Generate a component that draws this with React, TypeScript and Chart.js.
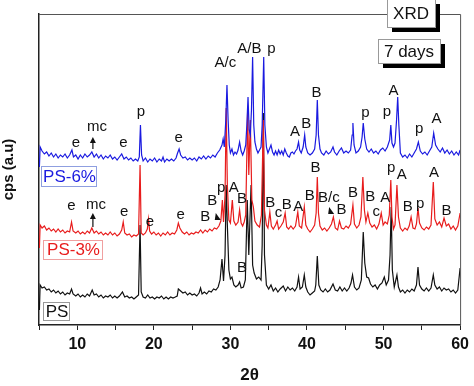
import { useEffect, useRef } from 'react';
import { Chart, registerables } from 'chart.js';
Chart.register(...registerables);

const FONT = "'Liberation Sans', Arial, sans-serif";

// 2θ (deg), intensity (a.u.)
const ps6: number[][] = [
  [5.05,158],[5.15,178],[5.4,174],[5.7,171],[6.0,173],[6.3,169],[6.6,172],[6.9,168],[7.2,171],[7.5,167],[7.8,170],[8.1,168],[8.4,171],[8.7,167],[9.0,170],[9.3,175],[9.5,168],[9.8,170],[10.1,166],[10.4,170],[10.7,167],[11.0,171],[11.3,168],[11.6,170],[11.9,173],[12.2,168],[12.5,171],[12.8,167],[13.1,170],[13.4,166],[13.7,169],[14.0,167],[14.3,170],[14.6,166],[14.9,168],[15.2,165],[15.5,168],[15.8,171],[16.1,166],[16.4,168],[16.7,165],[17.0,167],[17.3,164],[17.6,166],[17.9,164],[18.1,168],[18.25,200],[18.4,170],[18.6,164],[18.9,167],[19.2,163],[19.5,166],[19.8,164],[20.1,167],[20.4,163],[20.7,166],[21.0,164],[21.2,168],[21.4,163],[21.7,166],[22.0,164],[22.3,166],[22.6,164],[22.9,167],[23.1,172],[23.3,176],[23.5,170],[23.8,167],[24.1,168],[24.4,165],[24.7,167],[25.0,165],[25.3,167],[25.6,164],[25.9,168],[26.2,166],[26.5,169],[26.8,166],[27.1,169],[27.4,167],[27.7,170],[28.0,168],[28.3,172],[28.6,175],[28.9,180],[29.05,186],[29.2,178],[29.4,205],[29.55,240],[29.7,205],[29.85,180],[30.0,172],[30.2,176],[30.4,170],[30.6,173],[30.8,171],[31.0,175],[31.2,183],[31.4,174],[31.6,170],[31.8,174],[32.0,180],[32.15,200],[32.3,228],[32.45,195],[32.6,190],[32.75,215],[32.9,268],[33.05,200],[33.2,183],[33.4,176],[33.6,172],[33.8,175],[34.0,178],[34.15,200],[34.35,268],[34.5,200],[34.7,178],[34.9,172],[35.1,176],[35.3,180],[35.5,173],[35.7,170],[35.9,174],[36.1,170],[36.3,175],[36.5,171],[36.7,174],[36.9,170],[37.1,176],[37.3,172],[37.5,169],[37.7,168],[37.9,172],[38.1,173],[38.3,171],[38.5,174],[38.7,176],[38.9,183],[39.05,175],[39.25,172],[39.5,178],[39.7,190],[39.85,178],[40.1,172],[40.4,170],[40.7,172],[41.0,176],[41.2,190],[41.35,225],[41.5,190],[41.7,176],[41.9,172],[42.2,170],[42.5,174],[42.8,171],[43.1,173],[43.4,178],[43.6,173],[43.9,170],[44.2,174],[44.5,177],[44.8,172],[45.1,174],[45.4,172],[45.7,175],[45.9,190],[46.0,202],[46.15,180],[46.4,172],[46.7,174],[47.0,178],[47.2,188],[47.35,202],[47.55,186],[47.8,176],[48.1,173],[48.4,176],[48.7,172],[49.0,174],[49.3,171],[49.6,175],[49.9,177],[50.2,174],[50.5,178],[50.8,185],[50.95,200],[51.1,182],[51.3,178],[51.5,182],[51.7,205],[51.85,228],[52.0,200],[52.2,172],[52.5,168],[52.8,170],[53.1,167],[53.4,171],[53.7,168],[54.0,172],[54.3,176],[54.55,183],[54.8,174],[55.1,171],[55.4,173],[55.7,170],[56.0,174],[56.3,178],[56.55,192],[56.8,180],[57.1,176],[57.4,173],[57.7,177],[58.0,172],[58.3,175],[58.6,171],[58.9,174],[59.2,170],[59.5,173],[59.8,170],[60.0,175]
];

const ps3: number[][] = [
  [5.05,77],[5.15,100],[5.4,97],[5.7,99],[6.0,95],[6.3,97],[6.6,94],[6.9,96],[7.2,93],[7.5,96],[7.8,93],[8.1,95],[8.4,92],[8.7,94],[9.0,93],[9.25,103],[9.45,94],[9.8,92],[10.1,94],[10.4,91],[10.7,93],[11.0,91],[11.3,94],[11.6,92],[11.9,97],[12.2,92],[12.5,94],[12.8,91],[13.1,93],[13.4,90],[13.7,92],[14.0,90],[14.3,93],[14.6,90],[14.9,92],[15.2,89],[15.5,91],[15.8,95],[16.0,103],[16.2,92],[16.5,90],[16.8,91],[17.1,88],[17.4,90],[17.7,89],[18.0,91],[18.2,160],[18.35,92],[18.6,90],[18.9,92],[19.15,96],[19.3,106],[19.45,94],[19.7,91],[20.0,93],[20.3,90],[20.6,92],[20.9,89],[21.2,92],[21.5,90],[21.8,93],[22.1,90],[22.4,92],[22.7,91],[23.0,95],[23.2,102],[23.4,97],[23.7,93],[24.0,91],[24.3,93],[24.6,90],[24.9,92],[25.2,91],[25.5,93],[25.8,92],[26.1,95],[26.4,92],[26.7,95],[27.0,93],[27.3,96],[27.6,94],[27.9,97],[28.2,96],[28.5,99],[28.75,104],[28.95,125],[29.1,103],[29.3,130],[29.45,217],[29.6,140],[29.8,105],[30.0,102],[30.25,125],[30.45,104],[30.7,100],[31.0,103],[31.2,115],[31.4,102],[31.6,99],[31.8,103],[32.0,110],[32.25,215],[32.4,150],[32.6,205],[32.8,125],[33.0,118],[33.2,104],[33.5,100],[33.8,98],[34.05,110],[34.3,205],[34.45,115],[34.7,100],[34.9,97],[35.15,113],[35.35,99],[35.6,96],[35.9,100],[36.1,104],[36.3,96],[36.6,99],[36.9,103],[37.15,112],[37.35,98],[37.6,96],[37.9,99],[38.2,96],[38.5,99],[38.8,113],[39.0,99],[39.3,97],[39.65,118],[39.85,100],[40.1,96],[40.4,93],[40.7,96],[41.0,100],[41.2,112],[41.35,148],[41.5,112],[41.7,99],[42.0,95],[42.3,97],[42.6,94],[42.9,97],[43.2,101],[43.45,108],[43.7,97],[44.0,95],[44.25,104],[44.5,97],[44.8,96],[45.1,99],[45.4,97],[45.7,101],[46.0,120],[46.2,101],[46.5,97],[46.8,100],[47.05,108],[47.3,148],[47.5,115],[47.7,103],[47.95,112],[48.2,102],[48.5,98],[48.8,100],[49.1,96],[49.4,101],[49.7,112],[49.95,100],[50.2,103],[50.5,101],[50.75,110],[50.95,145],[51.1,108],[51.3,96],[51.5,100],[51.75,140],[51.95,108],[52.2,97],[52.5,94],[52.8,97],[53.1,95],[53.35,99],[53.6,108],[53.85,97],[54.1,96],[54.3,101],[54.5,117],[54.7,102],[55.0,97],[55.3,95],[55.6,98],[55.9,96],[56.2,100],[56.5,143],[56.7,106],[57.0,100],[57.3,103],[57.6,98],[57.9,107],[58.2,99],[58.5,101],[58.8,96],[59.1,99],[59.4,95],[59.7,99],[60.0,112]
];

const ps: number[][] = [
  [5.05,15],[5.15,40],[5.4,37],[5.7,38],[6.0,35],[6.3,36],[6.6,33],[6.9,35],[7.2,32],[7.5,34],[7.8,31],[8.1,33],[8.4,30],[8.7,32],[9.0,31],[9.25,36],[9.45,31],[9.8,29],[10.1,31],[10.4,28],[10.7,30],[11.0,28],[11.3,31],[11.6,29],[11.95,35],[12.2,30],[12.5,31],[12.8,28],[13.1,30],[13.4,27],[13.7,29],[14.0,28],[14.3,30],[14.6,27],[14.9,29],[15.2,27],[15.5,29],[15.9,33],[16.2,28],[16.5,29],[16.8,27],[17.1,28],[17.4,26],[17.7,28],[18.0,30],[18.2,100],[18.35,33],[18.6,28],[18.9,27],[19.2,30],[19.5,27],[19.8,28],[20.1,26],[20.4,28],[20.7,27],[21.0,29],[21.3,26],[21.6,28],[21.9,26],[22.2,28],[22.5,27],[22.8,28],[23.05,29],[23.2,36],[23.5,34],[23.8,32],[24.1,33],[24.4,30],[24.7,32],[25.0,30],[25.3,31],[25.6,29],[25.9,32],[26.1,37],[26.3,31],[26.6,33],[26.9,31],[27.2,34],[27.5,33],[27.8,36],[28.1,35],[28.4,38],[28.65,45],[28.9,66],[29.1,44],[29.3,70],[29.45,140],[29.6,100],[29.8,55],[30.0,46],[30.2,48],[30.45,40],[30.7,38],[31.0,40],[31.2,43],[31.4,37],[31.7,38],[31.95,45],[32.2,125],[32.4,70],[32.7,140],[32.9,60],[33.1,52],[33.4,46],[33.7,48],[34.0,45],[34.15,80],[34.3,212],[34.45,70],[34.7,40],[35.0,36],[35.3,40],[35.6,34],[35.9,37],[36.2,33],[36.5,36],[36.9,39],[37.2,34],[37.5,38],[37.8,35],[38.1,37],[38.4,34],[38.7,38],[38.9,48],[39.1,36],[39.4,38],[39.65,50],[39.85,38],[40.1,33],[40.4,30],[40.7,32],[41.0,34],[41.15,40],[41.35,69],[41.55,40],[41.8,35],[42.1,33],[42.4,36],[42.7,33],[43.0,35],[43.4,41],[43.7,35],[44.0,34],[44.3,38],[44.6,34],[44.9,37],[45.2,34],[45.5,37],[45.75,42],[45.95,50],[46.2,38],[46.5,35],[46.8,37],[47.1,45],[47.35,93],[47.55,62],[47.8,48],[48.05,47],[48.3,41],[48.6,38],[48.9,40],[49.2,36],[49.5,40],[49.8,42],[50.1,48],[50.35,40],[50.65,45],[50.85,70],[51.0,118],[51.15,55],[51.4,38],[51.75,50],[51.95,38],[52.2,33],[52.5,35],[52.8,32],[53.1,35],[53.4,33],[53.7,36],[54.0,34],[54.3,40],[54.5,58],[54.7,40],[55.0,36],[55.3,34],[55.6,37],[55.9,34],[56.2,37],[56.5,50],[56.7,40],[57.0,36],[57.3,38],[57.6,34],[57.9,37],[58.2,35],[58.5,36],[58.8,33],[59.1,35],[59.4,32],[59.7,35],[60.0,57]
];

const seriesNames = ['PS-6%', 'PS-3%', 'PS'];
const seriesColors = ['#1a1ae0', '#e81c1c', '#111111'];

// phase labels: [text, 2θ, level]
const ps6Labels: [string, number, number][] = [
  ['e',9.83,182],['mc',12.56,198],['e',16.01,182],['p',18.31,213],['e',23.25,187],
  ['A/c',29.35,262],['A/B',32.47,276],['p',35.36,276],['A',38.44,193],['B',39.91,201],
  ['B',41.26,232],['p',47.62,212],['p',50.43,213],['A',51.30,234],['p',54.64,196],['A',56.92,206]
];
const ps3Labels: [string, number, number][] = [
  ['e',9.22,119],['mc',12.43,120],['e',16.14,113],['e',19.48,103],['e',23.51,110],
  ['B',26.71,108],['B',27.62,124],['p',28.79,137],['A',30.43,137],['B',31.52,126],
  ['B',35.19,122],['c',36.27,112],['B',37.36,120],['A',38.87,118],['B',40.35,129],
  ['B',41.13,157],['B/c',42.86,127],['B',44.51,115],['B',46.01,132],['B',48.27,128],
  ['c',49.05,113],['A',50.22,127],['p',51.0,157],['A',52.38,150],['B',53.16,118],
  ['p',54.77,121],['A',56.58,152],['B',58.22,114]
];
const psLabels: [string, number, number][] = [['B',31.52,57]];

// arrows marking mc: [2θ, from, to]
const arrows: [number, number, number][] = [[12.04,176,188],[12.04,98,112]];
// small pointer heads: [2θ, level]
const pointers: [number, number][] = [[28.35,108],[43.16,114]];

const xTickValues = [10, 20, 30, 40, 50, 60];

const decorPlugin = {
  id: 'decor',
  afterDraw(chart: any) {
    const { ctx, chartArea, scales } = chart;
    const { left, top, right, bottom } = chartArea;
    const xs = scales.x, ys = scales.y;
    ctx.save();
    // frame top/right
    ctx.strokeStyle = '#555';
    ctx.lineWidth = 1;
    ctx.beginPath();
    ctx.moveTo(left, top + 0.5); ctx.lineTo(right + 0.5, top + 0.5); ctx.lineTo(right + 0.5, bottom);
    ctx.stroke();

    // labels
    ctx.fillStyle = '#111';
    ctx.font = `15px ${FONT}`;
    ctx.textAlign = 'center';
    ctx.textBaseline = 'middle';
    [...ps6Labels, ...ps3Labels, ...psLabels].forEach(([t, a, v]) => {
      ctx.fillText(t, xs.getPixelForValue(a), ys.getPixelForValue(v));
    });

    // arrows
    ctx.strokeStyle = '#111';
    ctx.lineWidth = 1.2;
    arrows.forEach(([a, v0, v1]) => {
      const px = xs.getPixelForValue(a);
      const y0 = ys.getPixelForValue(v0), y1 = ys.getPixelForValue(v1);
      ctx.beginPath(); ctx.moveTo(px, y0); ctx.lineTo(px, y1 + 3); ctx.stroke();
      ctx.beginPath(); ctx.moveTo(px, y1); ctx.lineTo(px - 3, y1 + 6); ctx.lineTo(px + 3, y1 + 6); ctx.closePath(); ctx.fill();
    });
    pointers.forEach(([a, v]) => {
      const px = xs.getPixelForValue(a), py = ys.getPixelForValue(v);
      ctx.beginPath(); ctx.moveTo(px - 2, py - 4); ctx.lineTo(px + 3, py + 3); ctx.lineTo(px - 3, py + 3); ctx.closePath(); ctx.fill();
    });

    // legend boxes
    const boxes = [
      { t: seriesNames[0], c: seriesColors[0], b: '#8f9fe0', x: left + 2, y: 166, w: 55, h: 20 },
      { t: seriesNames[1], c: seriesColors[1], b: '#f0a0a0', x: left + 4, y: 240, w: 59, h: 19 },
      { t: seriesNames[2], c: seriesColors[2], b: '#999', x: left + 4, y: 302, w: 26, h: 18 },
    ];
    ctx.font = `17px ${FONT}`;
    boxes.forEach(bx => {
      ctx.fillStyle = '#fff';
      ctx.fillRect(bx.x, bx.y, bx.w, bx.h);
      ctx.strokeStyle = bx.b; ctx.lineWidth = 1;
      ctx.strokeRect(bx.x + 0.5, bx.y + 0.5, bx.w, bx.h);
      ctx.fillStyle = bx.c;
      ctx.fillText(bx.t, bx.x + bx.w / 2 + 1, bx.y + bx.h / 2 + 1);
    });

    // title boxes with shadow
    const tboxes = [
      { t: 'XRD', x: 387, y: -1, w: 48, h: 28 },
      { t: '7 days', x: 378, y: 39, w: 62, h: 24 },
    ];
    ctx.font = `17px ${FONT}`;
    tboxes.forEach(bx => {
      ctx.fillStyle = '#000';
      ctx.fillRect(bx.x + 5, bx.y + 5, bx.w, bx.h);
      ctx.fillStyle = '#fff';
      ctx.fillRect(bx.x, bx.y, bx.w, bx.h);
      ctx.strokeStyle = '#999'; ctx.lineWidth = 1;
      ctx.strokeRect(bx.x + 0.5, bx.y + 0.5, bx.w, bx.h);
      ctx.fillStyle = '#111';
      ctx.fillText(bx.t, bx.x + bx.w / 2, bx.y + bx.h / 2 + 1);
    });
    ctx.restore();
  },
};

export default function App() {
  const ref = useRef<HTMLCanvasElement>(null);
  useEffect(() => {
    document.body.style.margin = '0';
    const toPts = (arr: number[][]) => arr.map(([x, y]) => ({ x, y }));
    const chart = new Chart(ref.current!, {
      type: 'line',
      data: {
        datasets: [ps6, ps3, ps].map((d, i) => ({
          label: seriesNames[i],
          data: toPts(d),
          borderColor: seriesColors[i],
          borderWidth: 1.2,
          pointRadius: 0,
          tension: 0,
          fill: false,
        })),
      },
      options: {
        animation: false,
        responsive: false,
        maintainAspectRatio: false,
        layout: { padding: { top: 14, right: 12, left: 0, bottom: 0 } },
        plugins: { legend: { display: false }, tooltip: { enabled: false } },
        scales: {
          x: {
            type: 'linear',
            min: 5,
            max: 60,
            afterFit: (s: any) => { s.height = 61; },
            afterBuildTicks: (s: any) => {
              s.ticks = [5, 10, 15, 20, 25, 30, 35, 40, 45, 50, 55, 60].map(v => ({ value: v }));
            },
            ticks: {
              autoSkip: false,
              maxRotation: 0,
              padding: 5,
              color: '#111',
              font: { family: FONT, size: 16, weight: 'bold' },
              callback: (v: any) => (xTickValues.includes(Number(v)) ? String(v) : ''),
            },
            grid: { drawOnChartArea: false, tickLength: 5, color: '#222' },
            border: { color: '#222', width: 1.5 },
            title: {
              display: true,
              text: '2θ',
              color: '#111',
              font: { family: FONT, size: 17, weight: 'bold' },
              padding: { top: 0, bottom: 0 },
            },
          },
          y: {
            min: 0,
            max: 311,
            afterFit: (s: any) => { s.width = 39; },
            ticks: { display: false },
            grid: { display: false, drawTicks: false },
            border: { color: '#222', width: 1.5 },
            title: {
              display: true,
              text: 'cps (a.u)',
              color: '#111',
              font: { family: FONT, size: 15, weight: 'bold' },
              padding: { top: 0, bottom: 0 },
            },
          },
        },
      },
      plugins: [decorPlugin],
    });
    return () => chart.destroy();
  }, []);
  return <canvas ref={ref} width={474} height={386} style={{ display: 'block' }} />;
}
